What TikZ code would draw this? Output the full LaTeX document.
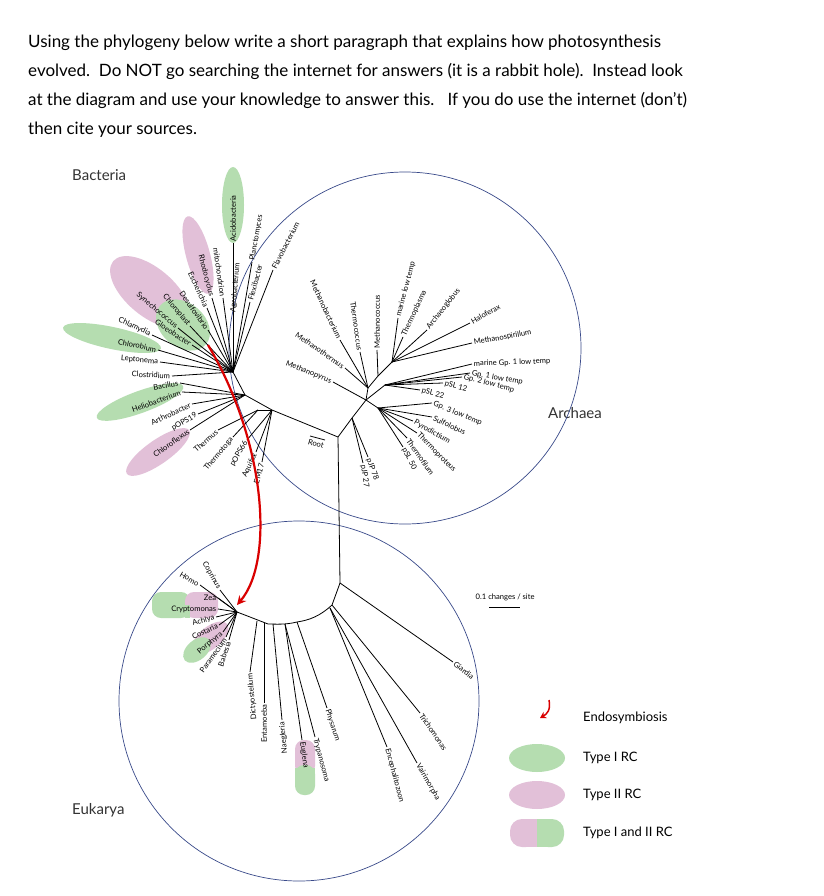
\documentclass[tikz,border=0pt]{standalone}
\usepackage{fontspec}
\setmainfont{Lato}
\usetikzlibrary{arrows.meta}
\definecolor{gr}{HTML}{B5DDB0}
\definecolor{pk}{HTML}{E2C0D8}
\definecolor{cb}{HTML}{3A4A8A}
\tikzset{br/.style={draw=black,line width=0.8pt},
 lab/.style={font=\fontsize{7.6}{8}\selectfont,inner sep=1.5pt},
 big/.style={font=\fontsize{17}{20}\selectfont,inner sep=0pt,anchor=base west},
 reg/.style={font=\fontsize{15}{18}\selectfont,inner sep=0pt,text=black!80},
 leg/.style={font=\fontsize{13}{16}\selectfont,inner sep=0pt,anchor=west},
 circ/.style={draw=cb,line width=0.7pt}}
\newcommand\lf[5]{\draw[br] (#1) -- (#2) node[lab,rotate=#3,anchor=#4]{#5};}
\begin{document}
\begin{tikzpicture}[x=1pt,y=-1pt]
\useasboundingbox (0,0) rectangle (823,896);
\fill[white] (0,0) rectangle (823,896);
% header
\node[big] (t1) at (28,48) {Using the phylogeny below write a short paragraph that explains how photosynthesis};
\node[big] (t2) at (28,77) {evolved.\ \ Do NOT go searching the internet for answers (it is a rabbit hole).\ \ Instead look};
\node[big] (t3) at (28,106) {at the diagram and use your knowledge to answer this.\ \ \ If you do use the internet (don't)};
\node[big] (t4) at (28,135) {then cite your sources.};
\node[reg,anchor=west] (bac) at (72,175) {Bacteria};
\node[reg,anchor=west] (arc) at (548,413) {Archaea};
\node[reg,anchor=west] (euk) at (72,810) {Eukarya};
% circles
\draw[circ] (405,348) circle (176);
\draw[circ] (299,701) circle (180);
% highlights
\fill[gr] (233,205) ellipse (11 and 38);
\fill[pk,rotate around={-75:(198,255)}] (198,255) ellipse (40 and 12);
\fill[pk,rotate around={-40:(150,292)}] (150,292) ellipse (48 and 24);
\fill[gr,rotate around={-40:(183,325)}] (183,325) ellipse (30 and 22);
\fill[gr,rotate around={-12:(112,338)}] (112,338) ellipse (50 and 11);
\fill[gr,rotate around={20:(140,402)}] (140,402) ellipse (46 and 11);
\fill[pk,rotate around={35:(158,452)}] (158,452) ellipse (38 and 12);
\fill[gr,rounded corners=9] (152,592) rectangle (190,618);
\fill[pk,rounded corners=9] (185,592) rectangle (218,618);
\fill[gr] (185,605) rectangle (190,618);
\fill[pk,rotate around={40:(210,638)}] (210,638) ellipse (22 and 11);
\fill[gr,rotate around={40:(197,650)}] (197,650) ellipse (16 and 10);
\fill[pk,rounded corners=9] (295,740) rectangle (315,775);
\fill[gr,rounded corners=9] (295,765) rectangle (315,795);
\fill[gr] (295,768) rectangle (315,775);
% bacteria internal
\coordinate (bR) at (338,437);
\coordinate (bLL) at (272,410);
\coordinate (bL) at (245,395);
\coordinate (bH) at (233,372);
\draw[br] (bR) -- (bLL) -- (bL) -- (bH);
\coordinate (bLLs) at (258,410);
\draw[br] (bLL) -- (bLLs);
\lf{bH}{233,243}{90}{west}{Acidobacteria}
\lf{bH}{252,262}{80}{west}{Planctomyces}
\lf{bH}{223,298}{-82}{east}{mitochondrion}
\lf{bH}{233,314}{85}{west}{Agrobacterium}
\lf{bH}{250,302}{75}{west}{Flexibacter}
\lf{bH}{273,270}{63}{west}{Flavobacterium}
\lf{bH}{212,298}{-75}{east}{Rhodocyclus}
\lf{bH}{207,308}{-65}{east}{Escherichia}
\lf{bH}{208,330}{-55}{east}{Desulfovibrio}
\lf{bH}{190,326}{-50}{east}{Chloroplast}
\lf{bH}{178,328}{-40}{east}{Synechococcus}
\lf{bH}{192,345}{-33}{east}{Gloeobacter}
\lf{bH}{152,335}{-25}{east}{Chlamydia}
\lf{bH}{158,350}{-12}{east}{Chlorobium}
\lf{bH}{160,362}{-5}{east}{Leptonema}
\lf{bH}{172,376}{-3}{east}{Clostridium}
\lf{bL}{180,383}{10}{east}{Bacillus}
\lf{bL}{182,392}{20}{east}{Heliobacterium}
\lf{bL}{192,404}{25}{east}{Arthrobacter}
\lf{bL}{198,414}{30}{east}{pOPS19}
\lf{bL}{190,430}{35}{east}{Chloroflexus}
\lf{bLLs}{218,430}{42}{east}{Thermus}
\lf{bLLs}{233,437}{50}{east}{Thermotoga}
\lf{bLL}{247,440}{60}{east}{pOPS66}
\lf{bLL}{256,452}{65}{east}{Aquifex}
\lf{bLL}{262,462}{75}{east}{EM17}
\coordinate (rt1) at (310,436);
\coordinate (rt2) at (325,440);
\draw[br] (rt1) -- (rt2) node[lab,midway,rotate=-15,below=1pt] (root) {Root};
% archaea
\coordinate (aP) at (352,418);
\coordinate (aH) at (366,400);
\coordinate (aM) at (368,388);
\coordinate (aK) at (378,376);
\coordinate (aU) at (392,362);
\coordinate (aL) at (385,385);
\coordinate (aC) at (378,408);
\draw[br] (bR) -- (aP) -- (aH) -- (aM) -- (aK) -- (aU);
\draw[br] (aH) -- (aL); \draw[br] (aH) -- (aC);
\lf{aH}{333,382}{-22}{east}{Methanopyrus}
\lf{aM}{345,368}{-35}{east}{Methanothermus}
\lf{aM}{340,340}{-65}{east}{Methanobacterium}
\lf{aM}{360,352}{-82}{east}{Thermococcus}
\lf{aK}{377,350}{90}{west}{Methanococcus}
\lf{aU}{398,318}{75}{west}{marine low temp}
\lf{aU}{403,337}{65}{west}{Thermoplasma}
\lf{aU}{427,330}{52}{west}{Archaeoglobus}
\lf{aU}{470,323}{30}{west}{Haloferax}
\lf{aU}{472,343}{10}{west}{Methanospirillum}
\lf{aL}{472,364}{2}{west}{marine Gp. 1 low temp}
\lf{aL}{470,373}{-10}{west}{Gp. 1 low temp}
\lf{aL}{462,377}{-14}{west}{Gp. 2 low temp}
\lf{aL}{443,383}{-15}{west}{pSL 12}
\lf{aL}{420,390}{-15}{west}{pSL 22}
\lf{aC}{432,403}{-22}{west}{Gp. 3 low temp}
\lf{aC}{432,417}{-25}{west}{Sulfolobus}
\lf{aC}{413,421}{-30}{west}{Pyrodictium}
\lf{aC}{417,433}{-45}{west}{Thermoproteus}
\lf{aC}{407,438}{-55}{west}{Thermofilum}
\lf{aC}{403,447}{-62}{west}{pSL 50}
\lf{aP}{368,457}{-70}{west}{pJP 78}
\lf{aP}{363,463}{-82}{west}{pJP 27}
% eukarya
\coordinate (eN) at (340,583);
\coordinate (eA1) at (332,605);
\coordinate (eA2) at (297,622);
\coordinate (eA3) at (268,624);
\coordinate (eA4) at (250,617);
\coordinate (eC) at (237,612);
\draw[br] (bR) -- (eN);
\draw[br] (eN) -- (eA1) .. controls (320,616) and (310,620) .. (eA2) .. controls (285,625) and (275,624) .. (eA3) -- (eA4) -- (eC);
\coordinate (eD) at (257,621);
\coordinate (eE) at (264,623);
\coordinate (eG) at (273,624);
\coordinate (eT) at (285,624);
\coordinate (eV) at (330,608);
\lf{eN}{453,662}{-38}{west}{Giardia}
\lf{eA1}{420,713}{-55}{west}{Trichomonas}
\lf{eV}{417,763}{-60}{west}{Vairimorpha}
\lf{eV}{387,747}{-75}{west}{Encephalitozoon}
\lf{eA2}{327,708}{-72}{west}{Physarum}
\lf{eT}{315,737}{-75}{west}{Trypanosoma}
\lf{eT}{302,740}{-82}{west}{Euglena}
\lf{eG}{282,720}{95}{east}{Naegleria}
\lf{eE}{264,703}{90}{east}{Entamoeba}
\lf{eD}{250,672}{95}{east}{Dictyostelium}
\lf{eC}{200,585}{-30}{east}{Homo}
\lf{eC}{220,590}{-60}{east}{Coprinus}
\lf{eC}{218,598}{0}{east}{Zea}
\lf{eC}{218,609}{0}{east}{Cryptomonas}
\lf{eC}{216,617}{15}{east}{Achlya}
\lf{eC}{219,625}{25}{east}{Costaria}
\lf{eC}{223,632}{40}{east}{Porphyra}
\lf{eC}{226,637}{55}{east}{Paramecium}
\lf{eC}{229,640}{72}{east}{Babesia}
% scale bar
\node[lab,anchor=west] (sc) at (474,597) {0.1 changes / site};
\coordinate (s1) at (489,607); \coordinate (s2) at (520,607);
\draw[br] (s1) -- (s2);
% endosymbiosis arrow
\coordinate (r1) at (208,345); \coordinate (r2) at (237,605);
\draw[red!85!black,line width=2.2pt,-{Stealth[length=9pt,width=9pt]}] (r1) .. controls (265,440) and (275,560) .. (r2);
% legend
\coordinate (l1) at (549,700); \coordinate (l2) at (540,718);
\draw[red!85!black,line width=1.5pt,-{Stealth[length=6pt,width=7pt]}] (l1) .. controls (551,710) and (547,714) .. (l2);
\node[leg] (le) at (583,718) {Endosymbiosis};
\fill[gr] (537,758) ellipse (28 and 14);
\node[leg] (l3) at (583,758) {Type I RC};
\fill[pk] (537,795) ellipse (28 and 14);
\node[leg] (l4) at (583,795) {Type II RC};
\fill[pk,rounded corners=12] (510,819) rectangle (538,847);
\fill[gr,rounded corners=12] (536,819) rectangle (564,847);
\fill[pk] (526,819) rectangle (537,847);
\fill[gr] (537,819) rectangle (548,847);
\node[leg] (l5) at (583,833) {Type I and II RC};
\end{tikzpicture}
\end{document}
